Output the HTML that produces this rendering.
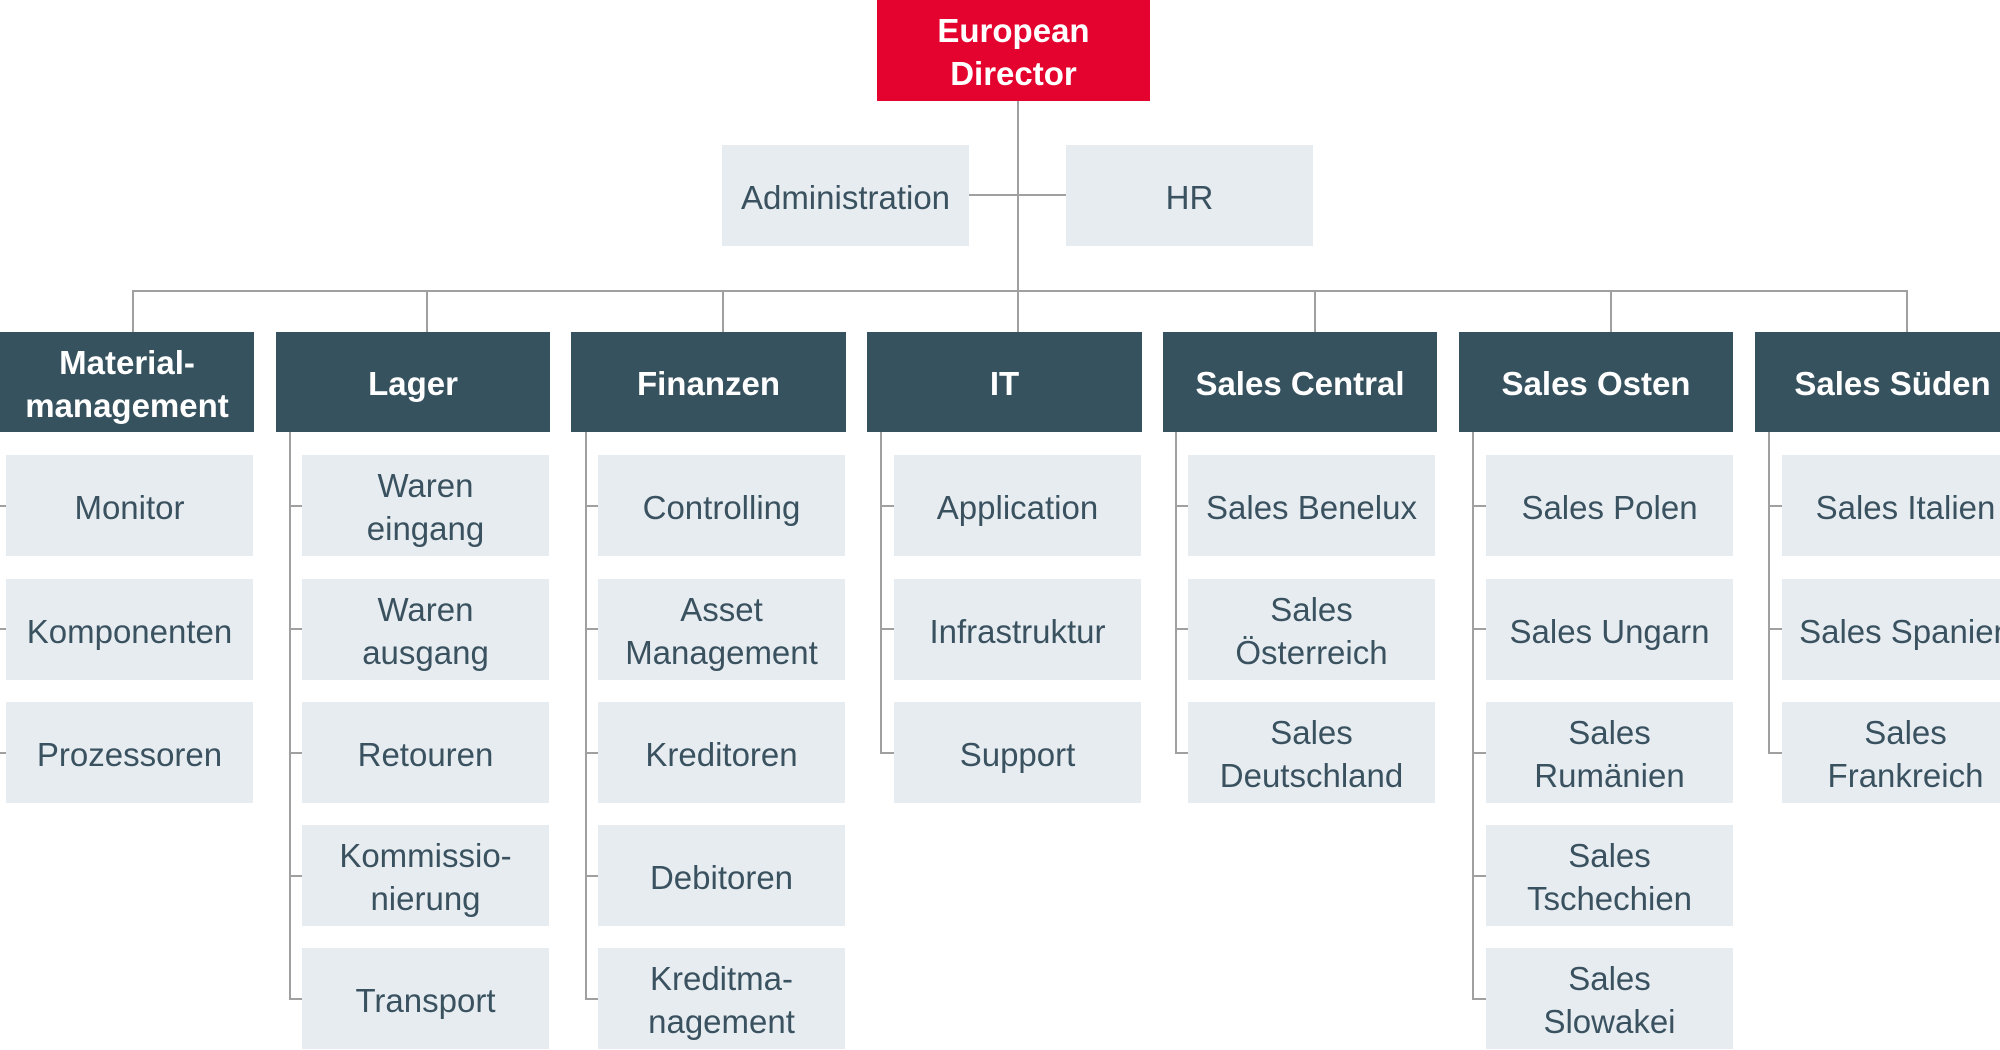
<!DOCTYPE html>
<html><head><meta charset="utf-8"><style>
body{margin:0;width:2000px;height:1050px;background:#fff;position:relative;overflow:hidden;font-family:"Liberation Sans Narrow","Liberation Sans",sans-serif;}
.b{position:absolute;display:flex;align-items:center;justify-content:center;text-align:center;line-height:43px;box-sizing:border-box;padding-top:3px;}
.c{background:#e7ecf0;color:#3a5260;font-size:33px;width:247px;height:101px;}
.h{background:#37525f;color:#fff;font-size:33px;font-weight:bold;top:332px;height:100px;}
.l{position:absolute;background:#a0a0a0;}
</style></head><body>
<div class="b" style="left:877px;top:0;width:273px;height:101px;background:#e4032e;color:#fff;font-weight:bold;font-size:33px;">European<br>Director</div>
<div class="l" style="left:1017px;top:101px;width:2px;height:231px"></div>
<div class="l" style="left:968px;top:194px;width:98px;height:2px"></div>
<div class="b c" style="left:722px;top:145px;">Administration</div>
<div class="b c" style="left:1066px;top:145px;">HR</div>
<div class="l" style="left:132px;top:290px;width:1776px;height:2px"></div>
<div class="l" style="left:132px;top:290px;width:2px;height:42px"></div>
<div class="l" style="left:426px;top:290px;width:2px;height:42px"></div>
<div class="l" style="left:722px;top:290px;width:2px;height:42px"></div>
<div class="l" style="left:1314px;top:290px;width:2px;height:42px"></div>
<div class="l" style="left:1610px;top:290px;width:2px;height:42px"></div>
<div class="l" style="left:1906px;top:290px;width:2px;height:42px"></div>
<div class="b h" style="left:0;width:254px;">Material-<br>management</div>
<div class="b h" style="left:276px;width:274px;">Lager</div>
<div class="b h" style="left:571px;width:275px;">Finanzen</div>
<div class="b h" style="left:867px;width:275px;">IT</div>
<div class="b h" style="left:1163px;width:274px;">Sales Central</div>
<div class="b h" style="left:1459px;width:274px;">Sales Osten</div>
<div class="b h" style="left:1755px;width:275px;">Sales Süden</div>

<div class="l" style="left:0;top:505px;width:6px;height:2px"></div>
<div class="l" style="left:0;top:628px;width:6px;height:2px"></div>
<div class="l" style="left:0;top:752px;width:6px;height:2px"></div>
<div class="b c" style="left:6px;top:455px;">Monitor</div>
<div class="b c" style="left:6px;top:579px;">Komponenten</div>
<div class="b c" style="left:6px;top:702px;">Prozessoren</div>

<div class="l" style="left:289px;top:432px;width:2px;height:567px"></div>
<div class="l" style="left:289px;top:505px;width:13px;height:2px"></div>
<div class="l" style="left:289px;top:628px;width:13px;height:2px"></div>
<div class="l" style="left:289px;top:752px;width:13px;height:2px"></div>
<div class="l" style="left:289px;top:875px;width:13px;height:2px"></div>
<div class="l" style="left:289px;top:998px;width:13px;height:2px"></div>
<div class="b c" style="left:302px;top:455px;">Waren<br>eingang</div>
<div class="b c" style="left:302px;top:579px;">Waren<br>ausgang</div>
<div class="b c" style="left:302px;top:702px;">Retouren</div>
<div class="b c" style="left:302px;top:825px;">Kommissio-<br>nierung</div>
<div class="b c" style="left:302px;top:948px;">Transport</div>

<div class="l" style="left:585px;top:432px;width:2px;height:567px"></div>
<div class="l" style="left:585px;top:505px;width:13px;height:2px"></div>
<div class="l" style="left:585px;top:628px;width:13px;height:2px"></div>
<div class="l" style="left:585px;top:752px;width:13px;height:2px"></div>
<div class="l" style="left:585px;top:875px;width:13px;height:2px"></div>
<div class="l" style="left:585px;top:998px;width:13px;height:2px"></div>
<div class="b c" style="left:598px;top:455px;">Controlling</div>
<div class="b c" style="left:598px;top:579px;">Asset<br>Management</div>
<div class="b c" style="left:598px;top:702px;">Kreditoren</div>
<div class="b c" style="left:598px;top:825px;">Debitoren</div>
<div class="b c" style="left:598px;top:948px;">Kreditma-<br>nagement</div>

<div class="l" style="left:880px;top:432px;width:2px;height:322px"></div>
<div class="l" style="left:880px;top:505px;width:14px;height:2px"></div>
<div class="l" style="left:880px;top:628px;width:14px;height:2px"></div>
<div class="l" style="left:880px;top:752px;width:14px;height:2px"></div>
<div class="b c" style="left:894px;top:455px;">Application</div>
<div class="b c" style="left:894px;top:579px;">Infrastruktur</div>
<div class="b c" style="left:894px;top:702px;">Support</div>

<div class="l" style="left:1175px;top:432px;width:2px;height:322px"></div>
<div class="l" style="left:1175px;top:505px;width:13px;height:2px"></div>
<div class="l" style="left:1175px;top:628px;width:13px;height:2px"></div>
<div class="l" style="left:1175px;top:752px;width:13px;height:2px"></div>
<div class="b c" style="left:1188px;top:455px;">Sales Benelux</div>
<div class="b c" style="left:1188px;top:579px;">Sales<br>Österreich</div>
<div class="b c" style="left:1188px;top:702px;">Sales<br>Deutschland</div>

<div class="l" style="left:1472px;top:432px;width:2px;height:567px"></div>
<div class="l" style="left:1472px;top:505px;width:14px;height:2px"></div>
<div class="l" style="left:1472px;top:628px;width:14px;height:2px"></div>
<div class="l" style="left:1472px;top:752px;width:14px;height:2px"></div>
<div class="l" style="left:1472px;top:875px;width:14px;height:2px"></div>
<div class="l" style="left:1472px;top:998px;width:14px;height:2px"></div>
<div class="b c" style="left:1486px;top:455px;">Sales Polen</div>
<div class="b c" style="left:1486px;top:579px;">Sales Ungarn</div>
<div class="b c" style="left:1486px;top:702px;">Sales<br>Rumänien</div>
<div class="b c" style="left:1486px;top:825px;">Sales<br>Tschechien</div>
<div class="b c" style="left:1486px;top:948px;">Sales<br>Slowakei</div>

<div class="l" style="left:1768px;top:432px;width:2px;height:322px"></div>
<div class="l" style="left:1768px;top:505px;width:14px;height:2px"></div>
<div class="l" style="left:1768px;top:628px;width:14px;height:2px"></div>
<div class="l" style="left:1768px;top:752px;width:14px;height:2px"></div>
<div class="b c" style="left:1782px;top:455px;">Sales Italien</div>
<div class="b c" style="left:1782px;top:579px;">Sales Spanien</div>
<div class="b c" style="left:1782px;top:702px;">Sales<br>Frankreich</div>
</body></html>
